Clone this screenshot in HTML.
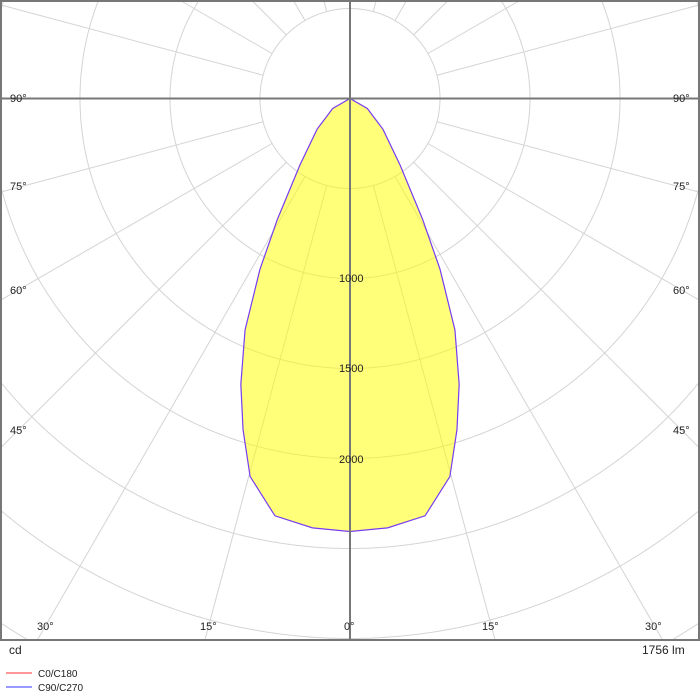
<!DOCTYPE html>
<html><head><style>
html,body{margin:0;padding:0;background:#fff;overflow:hidden;width:700px;height:700px;}
svg{display:block;}
svg text{font-family:"Liberation Sans","DejaVu Sans",sans-serif;font-size:11px;fill:#222;}
</style></head><body>
<svg width="700" height="700" viewBox="0 0 700 700" xmlns="http://www.w3.org/2000/svg">
<g id="grid" stroke="#d4d4d4" fill="none" stroke-width="1"></g>
<polygon id="poly" fill="rgba(255,255,0,0.52)" stroke="#7a3cf0" stroke-width="1.2" points=""/>
<g stroke="#777" stroke-width="2" fill="none">
<rect x="1" y="1" width="698" height="639"/>
<line x1="1" y1="98.5" x2="699" y2="98.5"/>
<line x1="350" y1="1" x2="350" y2="640"/>
</g>
<text x="10" y="102">90°</text><text x="673" y="102">90°</text>
<text x="10" y="190">75°</text><text x="673" y="190">75°</text>
<text x="10" y="294">60°</text><text x="673" y="294">60°</text>
<text x="10" y="434">45°</text><text x="673" y="434">45°</text>
<text x="37" y="630">30°</text><text x="200" y="630">15°</text><text x="344" y="630">0°</text>
<text x="482" y="630">15°</text><text x="645" y="630">30°</text>
<text x="339" y="282">1000</text><text x="339" y="372">1500</text><text x="339" y="463">2000</text>
<text x="9" y="654" style="font-size:12px">cd</text><text x="642" y="654" style="font-size:12px">1756 lm</text>
<line x1="6" y1="673" x2="32" y2="673" stroke="#f99" stroke-width="2"/>
<line x1="6" y1="687" x2="32" y2="687" stroke="#99f" stroke-width="2"/>
<text x="38" y="677" style="font-size:10px">C0/C180</text><text x="38" y="691" style="font-size:10px">C90/C270</text>
</svg>
<script>
var cx=350,cy=98.5,g=document.getElementById('grid'),s='';
function inR(x,y){return x>=1&&x<=699&&y>=1&&y<=640;}
for(var r=90;r<=810;r+=90){var seg=[];
 for(var k=0;k<=1440;k++){var t=k*Math.PI*2/1440,x=cx+r*Math.sin(t),y=cy+r*Math.cos(t);
  if(inR(x,y))seg.push(x.toFixed(1)+','+y.toFixed(1));
  else{if(seg.length>1)s+='<polyline points="'+seg.join(' ')+'"/>';seg=[];}}
 if(seg.length>1)s+='<polyline points="'+seg.join(' ')+'"/>';}
for(var a=0;a<360;a+=15){var t=a*Math.PI/180,c=Math.cos(t),n=Math.sin(t);
var L=1e9;
if(n>1e-9)L=Math.min(L,(699-cx)/n); if(n<-1e-9)L=Math.min(L,(1-cx)/n);
if(c>1e-9)L=Math.min(L,(640-cy)/c); if(c<-1e-9)L=Math.min(L,(1-cy)/c);
s+='<line x1="'+(cx+90*n)+'" y1="'+(cy+90*c)+'" x2="'+(cx+L*n)+'" y2="'+(cy+L*c)+'"/>';}
g.innerHTML=s;
var d=[[0,433],[5,431],[10.2,424],[14.8,391],[17.9,348],[20.9,306],[24.4,254],[27.8,193],[31,141],[37,83],[47,45],[60,20],[90,0]];
var p=[];
for(var i=d.length-1;i>=0;i--){var t=d[i][0]*Math.PI/180;p.push((cx-d[i][1]*Math.sin(t))+','+(cy+d[i][1]*Math.cos(t)));}
for(var i=1;i<d.length;i++){var t=d[i][0]*Math.PI/180;p.push((cx+d[i][1]*Math.sin(t))+','+(cy+d[i][1]*Math.cos(t)));}
document.getElementById('poly').setAttribute('points',p.join(' '));
</script>
</body></html>
